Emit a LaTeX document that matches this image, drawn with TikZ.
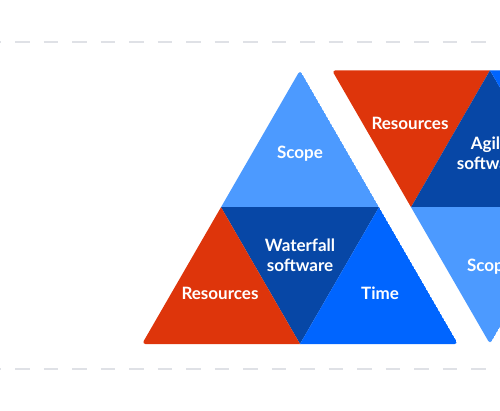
\documentclass[tikz,border=0pt]{standalone}
\usepackage{fontspec}
\setmainfont{Lato}
\definecolor{tred}{HTML}{DE350B}
\definecolor{tlight}{HTML}{4C9AFF}
\definecolor{tdark}{HTML}{0747A6}
\definecolor{tblue}{HTML}{0065FF}
\definecolor{tgray}{HTML}{DFE1E6}
\tikzset{
  lbl/.style={text=white,font=\bfseries\fontsize{17}{20.5}\selectfont,align=center,inner sep=0pt},
  sep/.style={tgray,line width=1.8pt,dash pattern=on 14.5pt off 14pt}
}
\begin{document}
\begin{tikzpicture}[x=1pt,y=1pt]
   \useasboundingbox (0,0) rectangle (500,410);
   \clip (0,0) rectangle (500,410);
   %separators
   \draw[sep] (-13.5,368) -- (520,368);
   \draw[sep] (-13.5,41) -- (520,41);
   %waterfall triangle
   \coordinate (lA) at (300,339.7);
   \coordinate (lL) at (142,66);
   \coordinate (lR) at (458,66);
   \coordinate (lML) at (221,202.8);
   \coordinate (lMR) at (379,202.8);
   \coordinate (lBM) at (300,66);
   \begin{scope}
     \clip[rounded corners=3.5] (lA) -- (lR) -- (lL) -- cycle;
     \fill[tlight] (lA) -- (lMR) -- (lML) -- cycle;
     \fill[tdark] (lML) -- (lMR) -- (lBM) -- cycle;
     \fill[tred] (lML) -- (lBM) -- (lL) -- cycle;
     \fill[tblue] (lMR) -- (lR) -- (lBM) -- cycle;
   \end{scope}
   %agile triangle
   \coordinate (rTL) at (332,339.7);
   \coordinate (rTM) at (490,339.7);
   \coordinate (rTR) at (648,339.7);
   \coordinate (rML) at (411,202.8);
   \coordinate (rMR) at (569,202.8);
   \coordinate (rB) at (490,66);
   \begin{scope}
     \clip[rounded corners=3.5] (rTL) -- (rTR) -- (rB) -- cycle;
     \fill[tred] (rTL) -- (rTM) -- (rML) -- cycle;
     \fill[tdark] (rTM) -- (rMR) -- (rML) -- cycle;
     \fill[tblue] (rTM) -- (rTR) -- (rMR) -- cycle;
     \fill[tlight] (rML) -- (rMR) -- (rB) -- cycle;
   \end{scope}
   %labels
   \node[lbl] (wscope) at (300,256) {Scope};
   \node[lbl] (wsoft) at (300,154.5) {Waterfall\\software};
   \node[lbl] (wres) at (220,117) {Resources};
   \node[lbl] (wtime) at (380,117) {Time};
   \node[lbl] (ares) at (410,287) {Resources};
   \node[lbl] (asoft) at (490,256.5) {Agile\\software};
   \node[lbl] (ascope) at (490,143) {Scope};
\end{tikzpicture}
\end{document}
